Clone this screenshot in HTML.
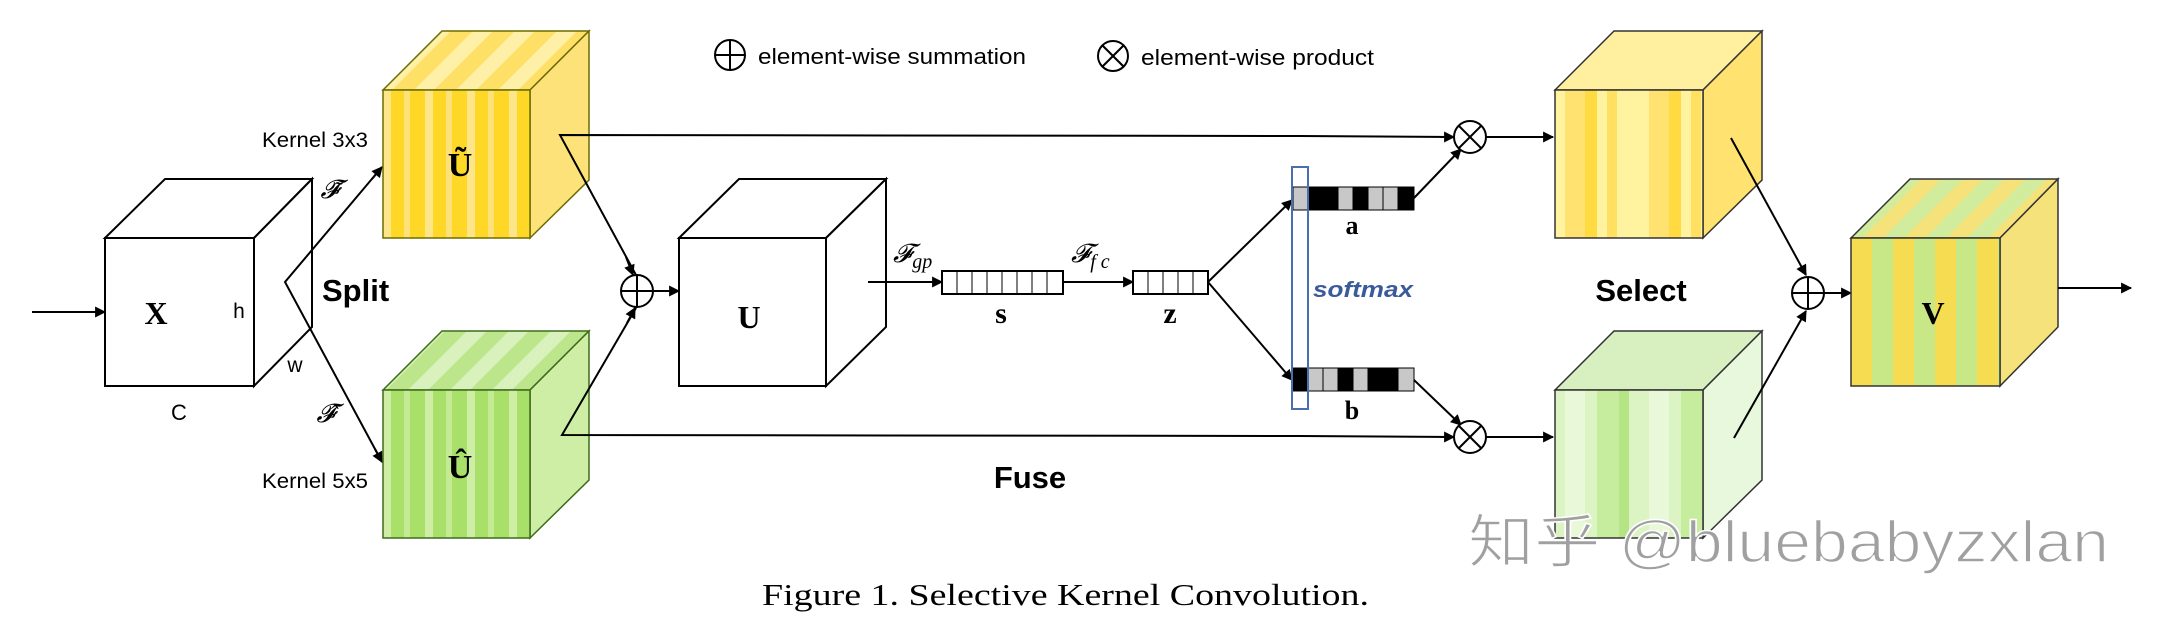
<!DOCTYPE html>
<html><head><meta charset="utf-8"><style>
html,body{margin:0;padding:0;background:#fff;width:2168px;height:640px;overflow:hidden}
svg{display:block}
.s{font-family:"Liberation Sans",sans-serif}
.r{font-family:"Liberation Serif",serif}
</style></head><body>
<svg width="2168" height="640" viewBox="0 0 2168 640" xmlns="http://www.w3.org/2000/svg">
<defs>
<marker id="ar" viewBox="0 0 10 10" refX="9" refY="5" markerWidth="13" markerHeight="11" orient="auto" markerUnits="userSpaceOnUse">
<path d="M0,0 L10,5 L0,10 z" fill="#000"/></marker>
<pattern id="py" patternUnits="userSpaceOnUse" width="42" height="10" x="383">
<rect width="42" height="10" fill="#ffd726"/><rect x="0" width="8" height="10" fill="#fde68a"/><rect x="21" width="6" height="10" fill="#fde27a"/></pattern>
<pattern id="pyt" patternUnits="userSpaceOnUse" width="42" height="10" patternTransform="skewX(-45)">
<rect width="42" height="10" fill="#ffe066"/><rect width="20" height="10" fill="#fff0a8"/></pattern>
<pattern id="pg" patternUnits="userSpaceOnUse" width="42" height="10" x="383">
<rect width="42" height="10" fill="#a8e06a"/><rect x="0" width="8" height="10" fill="#cdeea4"/><rect x="21" width="6" height="10" fill="#c4ea96"/></pattern>
<pattern id="pgt" patternUnits="userSpaceOnUse" width="42" height="10" patternTransform="skewX(-45)">
<rect width="42" height="10" fill="#bde68c"/><rect width="20" height="10" fill="#d9f2bd"/></pattern>
<pattern id="psy" patternUnits="userSpaceOnUse" width="84" height="10" x="1555">
<rect width="84" height="10" fill="#fff3a0"/><rect x="10" width="20" height="10" fill="#ffe270"/><rect x="30" width="12" height="10" fill="#ffda40"/><rect x="52" width="10" height="10" fill="#ffe060"/></pattern>
<pattern id="psg" patternUnits="userSpaceOnUse" width="84" height="10" x="1555">
<rect width="84" height="10" fill="#dcf3c4"/><rect x="10" width="20" height="10" fill="#e8f8d8"/><rect x="42" width="22" height="10" fill="#c6ec9e"/><rect x="64" width="10" height="10" fill="#b5e485"/></pattern>
<pattern id="pv" patternUnits="userSpaceOnUse" width="42" height="10" x="1851">
<rect width="42" height="10" fill="#c8e888"/><rect x="0" width="21" height="10" fill="#f5dc50"/></pattern>
<pattern id="pvt" patternUnits="userSpaceOnUse" width="42" height="10" patternTransform="skewX(-45)">
<rect width="42" height="10" fill="#d0ec9c"/><rect width="21" height="10" fill="#f6e27a"/></pattern>
</defs>

<!-- legend -->
<circle cx="730" cy="55" r="15" fill="none" stroke="#000" stroke-width="2"/>
<line x1="715" y1="55" x2="745" y2="55" stroke="#000" stroke-width="2"/><line x1="730" y1="40" x2="730" y2="70" stroke="#000" stroke-width="2"/>
<text x="758" y="64" class="s" font-size="22" textLength="268" lengthAdjust="spacingAndGlyphs">element-wise summation</text>
<circle cx="1113" cy="56" r="15" fill="none" stroke="#000" stroke-width="2"/>
<line x1="1102" y1="45" x2="1124" y2="67" stroke="#000" stroke-width="2"/><line x1="1124" y1="45" x2="1102" y2="67" stroke="#000" stroke-width="2"/>
<text x="1141" y="65" class="s" font-size="22" textLength="233" lengthAdjust="spacingAndGlyphs">element-wise product</text>

<!-- X cube -->
<line x1="32" y1="312" x2="105" y2="312" stroke="#000" stroke-width="2" marker-end="url(#ar)"/>
<g fill="#fff" stroke="#000" stroke-width="2">
<polygon points="105,238 165,179 312,179 254,238"/>
<polygon points="254,238 312,179 312,327 254,386"/>
<rect x="105" y="238" width="149" height="148"/>
</g>
<text x="156" y="324" class="r" font-size="32" font-weight="bold" text-anchor="middle">X</text>
<text x="239" y="318" class="s" font-size="21" text-anchor="middle">h</text>
<text x="295" y="372" class="s" font-size="21" text-anchor="middle">w</text>
<text x="179" y="420" class="s" font-size="22" text-anchor="middle">C</text>

<!-- split lines -->
<polyline points="382,167 285,282 382,462" fill="none" stroke="#000" stroke-width="2"/>
<line x1="372" y1="179" x2="382" y2="167" stroke="#000" stroke-width="2" marker-end="url(#ar)"/>
<line x1="375" y1="449" x2="382" y2="462" stroke="#000" stroke-width="2" marker-end="url(#ar)"/>
<text x="330" y="198" class="r" font-size="26" font-style="italic" text-anchor="middle">𝓕̃</text>
<text x="326" y="422" class="r" font-size="26" font-style="italic" text-anchor="middle">𝓕̂</text>
<text x="368" y="147" class="s" font-size="21" text-anchor="end" textLength="106" lengthAdjust="spacingAndGlyphs">Kernel 3x3</text>
<text x="368" y="488" class="s" font-size="21" text-anchor="end" textLength="106" lengthAdjust="spacingAndGlyphs">Kernel 5x5</text>
<text x="322" y="301" class="s" font-size="31" font-weight="bold">Split</text>

<!-- Yellow cube -->
<g stroke="#6b6b00" stroke-width="1.5">
<polygon points="383,90 442,31 589,31 530,90" fill="url(#pyt)"/>
<polygon points="530,90 589,31 589,180 530,238" fill="#fde27a"/>
<rect x="383" y="90" width="147" height="148" fill="url(#py)"/>
</g>
<text x="460" y="176" class="r" font-size="34" font-weight="bold" text-anchor="middle">Ũ</text>

<!-- Green cube -->
<g stroke="#3d6b1a" stroke-width="1.5">
<polygon points="383,390 442,331 589,331 530,390" fill="url(#pgt)"/>
<polygon points="530,390 589,331 589,480 530,538" fill="#cdeea4"/>
<rect x="383" y="390" width="147" height="148" fill="url(#pg)"/>
</g>
<text x="460" y="478" class="r" font-size="34" font-weight="bold" text-anchor="middle">Û</text>

<!-- lines to oplus -->
<polyline points="1454,137 1300,136 560,135 636,275" fill="none" stroke="#000" stroke-width="2"/>
<line x1="626" y1="257" x2="633" y2="275" stroke="#000" stroke-width="2" marker-end="url(#ar)"/>
<polyline points="1454,437 1300,436 562,435 636,308" fill="none" stroke="#000" stroke-width="2"/>
<line x1="627" y1="323" x2="635" y2="308" stroke="#000" stroke-width="2" marker-end="url(#ar)"/>
<line x1="1440" y1="137" x2="1454" y2="137" stroke="#000" stroke-width="2" marker-end="url(#ar)"/>
<line x1="1440" y1="437" x2="1454" y2="437" stroke="#000" stroke-width="2" marker-end="url(#ar)"/>
<circle cx="637" cy="291" r="16" fill="#fff" stroke="#000" stroke-width="2"/>
<line x1="621" y1="291" x2="653" y2="291" stroke="#000" stroke-width="2"/><line x1="637" y1="275" x2="637" y2="307" stroke="#000" stroke-width="2"/>
<line x1="653" y1="291" x2="679" y2="291" stroke="#000" stroke-width="2" marker-end="url(#ar)"/>

<!-- U cube -->
<g fill="#fff" stroke="#000" stroke-width="2">
<polygon points="679,238 739,179 886,179 826,238"/>
<polygon points="826,238 886,179 886,327 826,386"/>
<rect x="679" y="238" width="147" height="148"/>
</g>
<text x="749" y="328" class="r" font-size="32" font-weight="bold" text-anchor="middle">U</text>

<!-- s, z -->
<line x1="868" y1="282" x2="942" y2="282" stroke="#000" stroke-width="2" marker-end="url(#ar)"/>
<text x="893" y="262" class="r" font-size="26" font-style="italic">𝓕<tspan font-size="20" dy="6">gp</tspan></text>
<rect x="942" y="271" width="121" height="23" fill="#fff" stroke="#000" stroke-width="2"/>
<g stroke="#000" stroke-width="1">
<line x1="957" y1="271" x2="957" y2="294"/><line x1="972" y1="271" x2="972" y2="294"/><line x1="987" y1="271" x2="987" y2="294"/><line x1="1002" y1="271" x2="1002" y2="294"/><line x1="1017" y1="271" x2="1017" y2="294"/><line x1="1032" y1="271" x2="1032" y2="294"/><line x1="1047" y1="271" x2="1047" y2="294"/>
<line x1="1148" y1="271" x2="1148" y2="294"/><line x1="1163" y1="271" x2="1163" y2="294"/><line x1="1178" y1="271" x2="1178" y2="294"/><line x1="1193" y1="271" x2="1193" y2="294"/>
</g>
<text x="1001" y="323" class="r" font-size="30" font-weight="bold" text-anchor="middle">s</text>
<line x1="1063" y1="282" x2="1133" y2="282" stroke="#000" stroke-width="2" marker-end="url(#ar)"/>
<text x="1071" y="262" class="r" font-size="26" font-style="italic">𝓕<tspan font-size="20" dy="6">f c</tspan></text>
<rect x="1133" y="271" width="75" height="23" fill="none" stroke="#000" stroke-width="2"/>
<text x="1170" y="323" class="r" font-size="30" font-weight="bold" text-anchor="middle">z</text>

<line x1="1208" y1="282" x2="1292" y2="200" stroke="#000" stroke-width="2" marker-end="url(#ar)"/>
<line x1="1208" y1="282" x2="1292" y2="380" stroke="#000" stroke-width="2" marker-end="url(#ar)"/>

<!-- a/b vectors -->
<g stroke="#000" stroke-width="1">
<rect x="1293" y="187" width="15" height="23" fill="#c8c8c8"/><rect x="1308" y="187" width="15" height="23" fill="#000"/><rect x="1323" y="187" width="15" height="23" fill="#000"/><rect x="1338" y="187" width="15" height="23" fill="#c8c8c8"/><rect x="1353" y="187" width="15" height="23" fill="#000"/><rect x="1368" y="187" width="15" height="23" fill="#c8c8c8"/><rect x="1383" y="187" width="15" height="23" fill="#c8c8c8"/><rect x="1398" y="187" width="16" height="23" fill="#000"/>
<rect x="1293" y="368" width="15" height="23" fill="#000"/><rect x="1308" y="368" width="15" height="23" fill="#c8c8c8"/><rect x="1323" y="368" width="15" height="23" fill="#c8c8c8"/><rect x="1338" y="368" width="15" height="23" fill="#000"/><rect x="1353" y="368" width="15" height="23" fill="#c8c8c8"/><rect x="1368" y="368" width="15" height="23" fill="#000"/><rect x="1383" y="368" width="15" height="23" fill="#000"/><rect x="1398" y="368" width="16" height="23" fill="#c8c8c8"/>
</g>
<rect x="1292" y="167" width="16" height="242" fill="none" stroke="#4a6fb0" stroke-width="2"/>
<text x="1352" y="234" class="r" font-size="26" font-weight="bold" text-anchor="middle">a</text>
<text x="1352" y="419" class="r" font-size="26" font-weight="bold" text-anchor="middle">b</text>
<text x="1313" y="297" class="s" font-size="22" font-style="italic" font-weight="bold" fill="#3a5a9a" textLength="100" lengthAdjust="spacingAndGlyphs">softmax</text>
<text x="1030" y="488" class="s" font-size="31" font-weight="bold" text-anchor="middle">Fuse</text>

<line x1="1414" y1="198" x2="1461" y2="149" stroke="#000" stroke-width="2" marker-end="url(#ar)"/>
<line x1="1414" y1="380" x2="1461" y2="425" stroke="#000" stroke-width="2" marker-end="url(#ar)"/>
<circle cx="1470" cy="137" r="16" fill="#fff" stroke="#000" stroke-width="2"/>
<line x1="1459" y1="126" x2="1481" y2="148" stroke="#000" stroke-width="2"/><line x1="1481" y1="126" x2="1459" y2="148" stroke="#000" stroke-width="2"/>
<circle cx="1470" cy="437" r="16" fill="#fff" stroke="#000" stroke-width="2"/>
<line x1="1459" y1="426" x2="1481" y2="448" stroke="#000" stroke-width="2"/><line x1="1481" y1="426" x2="1459" y2="448" stroke="#000" stroke-width="2"/>
<line x1="1486" y1="137" x2="1553" y2="137" stroke="#000" stroke-width="2" marker-end="url(#ar)"/>
<line x1="1486" y1="437" x2="1553" y2="437" stroke="#000" stroke-width="2" marker-end="url(#ar)"/>

<!-- select cubes -->
<g stroke="#333" stroke-width="1.5">
<polygon points="1555,90 1614,31 1762,31 1703,90" fill="#fff0a0"/>
<polygon points="1703,90 1762,31 1762,180 1703,238" fill="#ffe270"/>
<rect x="1555" y="90" width="148" height="148" fill="url(#psy)"/>
<polygon points="1555,390 1614,331 1762,331 1703,390" fill="#d8f0c0"/>
<polygon points="1703,390 1762,331 1762,480 1703,538" fill="#e8f8dc"/>
<rect x="1555" y="390" width="148" height="148" fill="url(#psg)"/>
</g>
<text x="1641" y="301" class="s" font-size="31" font-weight="bold" text-anchor="middle">Select</text>
<line x1="1731" y1="138" x2="1806" y2="275" stroke="#000" stroke-width="2" marker-end="url(#ar)"/>
<line x1="1734" y1="438" x2="1806" y2="311" stroke="#000" stroke-width="2" marker-end="url(#ar)"/>
<circle cx="1808" cy="293" r="16" fill="#fff" stroke="#000" stroke-width="2"/>
<line x1="1792" y1="293" x2="1824" y2="293" stroke="#000" stroke-width="2"/><line x1="1808" y1="277" x2="1808" y2="309" stroke="#000" stroke-width="2"/>
<line x1="1824" y1="293" x2="1851" y2="293" stroke="#000" stroke-width="2" marker-end="url(#ar)"/>

<!-- V cube -->
<g stroke="#333" stroke-width="1.5">
<polygon points="1851,238 1910,179 2058,179 2000,238" fill="url(#pvt)"/>
<polygon points="2000,238 2058,179 2058,327 2000,386" fill="#f6e27a"/>
<rect x="1851" y="238" width="149" height="148" fill="url(#pv)"/>
</g>
<text x="1933" y="324" class="r" font-size="32" font-weight="bold" text-anchor="middle">V</text>
<line x1="2058" y1="288" x2="2131" y2="288" stroke="#000" stroke-width="2" marker-end="url(#ar)"/>

<!-- watermark -->
<text x="1468" y="562" font-family="'Liberation Sans','Noto Sans CJK SC',sans-serif" font-size="58" fill="#a0a0a0" stroke="#fff" stroke-width="1.5" textLength="641" lengthAdjust="spacingAndGlyphs">知乎 @bluebabyzxlan</text>

<!-- caption -->
<text x="762" y="605" class="r" font-size="31" textLength="607" lengthAdjust="spacingAndGlyphs">Figure 1. Selective Kernel Convolution.</text>
</svg>
</body></html>
